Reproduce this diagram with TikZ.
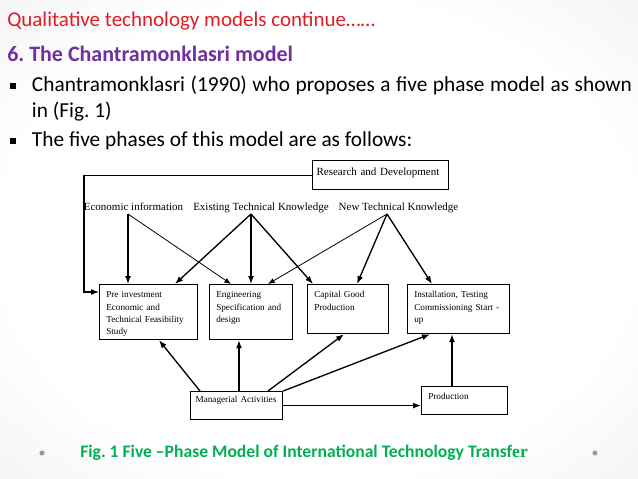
\documentclass[tikz,border=0pt]{standalone}
\usepackage{fontspec}
\setmainfont{Carlito}
\newfontfamily\diagfont{Liberation Serif}
\usetikzlibrary{arrows.meta,calc}
\frenchspacing

\definecolor{titlered}{RGB}{226,28,36}
\definecolor{headpurple}{RGB}{112,48,160}
\definecolor{capgreen}{RGB}{0,176,80}
\pgfdeclareradialshading{slidebg}{\pgfpoint{0bp}{0bp}}{color(0bp)=(white); color(25bp)=(white); color(50bp)=(black!10); color(72bp)=(black!16)}

\tikzset{
  phase/.style={draw, line width=0.9pt, anchor=north west, align=left, inner xsep=5pt, inner ysep=3pt, text height=6.75pt, font=\diagfont\fontsize{6.9}{9.3}\selectfont},
  know/.style={anchor=base, inner sep=1pt, text height=1.6ex, text depth=0.3ex, font=\diagfont\fontsize{8.25}{10}\selectfont},
  flow/.style={line width=1pt, -{Latex[length=6pt,width=4.5pt]}},
  thinflow/.style={line width=0.6pt, -{Latex[length=5pt,width=4pt]}},
}

\begin{document}
\begin{tikzpicture}[x=0.75pt,y=-0.75pt]
\useasboundingbox (0,0) rectangle (638,478);
\shade[shading=slidebg] (0,0) rectangle (638,478);
\fill[white] (82,157) rectangle (515,420);

% slide text
\node[anchor=base west, inner sep=0pt, text=titlered, font=\fontsize{15.75}{18}\selectfont] (title) at (7,26.7) {Qualitative technology models continue……};
\node[anchor=base west, inner sep=0pt, text=headpurple, font=\bfseries\fontsize{16.5}{20}\selectfont] (heading) at (7,61) {6. The Chantramonklasri model};
\node[anchor=base west, inner sep=0pt, text width=450pt, align=justify, font=\fontsize{16}{19.1}\selectfont] (item1) at (31.7,91.7) {\noindent\llap{\rule[1.9pt]{4.3pt}{4.3pt}\hspace{12pt}}Chantramonklasri (1990) who proposes a five phase model as shown\linebreak in (Fig.~1)};
\node[anchor=base west, inner sep=0pt, font=\fontsize{16}{19.1}\selectfont] (item2) at (31.7,146.7) {\llap{\rule[1.9pt]{4.3pt}{4.3pt}\hspace{12pt}}The five phases of this model are as follows:};
\node[anchor=base west, inner sep=0pt, text=capgreen, font=\bfseries\fontsize{13.2}{15}\selectfont] (caption) at (80,457) {Fig. 1 Five –Phase Model of International Technology Transf{\diagfont er}};
\fill[black!40] (42,453) circle (1.9pt);
\fill[black!40] (595,453) circle (1.9pt);

% the five phases
\node[phase, text width=96pt, inner xsep=3pt, text height=8.25pt, text depth=7.5pt, font=\diagfont\fontsize{8.25}{10}\selectfont] (rd) at (312,160) {Research and Development};
\node[know] (econ) at (133.5,210.5) {Economic information};
\node[know] (exist) at (261,210.5) {Existing Technical Knowledge};
\node[know] (new) at (398.5,210.5) {New Technical Knowledge};

\node[phase, text width=63.5pt, text depth=28.5pt] (pre) at (99,284) {Pre investment\\Economic and\\Technical Feasibility\\Study};
\node[phase, text width=52.25pt, text depth=28.5pt] (eng) at (209,284) {Engineering\\Specification and\\design};
\node[phase, text width=50.75pt, text depth=24pt] (cap) at (307,284) {Capital Good\\Production};
\node[phase, text width=66.5pt, text depth=24pt] (inst) at (407,284) {Installation, Testing\\Commissioning Start -\\up};
\node[phase, text width=54.5pt, text depth=8.25pt] (prod) at (421,386) {Production};
\node[phase, text width=61.5pt, inner xsep=3.75pt, text height=5pt, text depth=10pt] (man) at (190,391) {Managerial Activities};

% knowledge inputs
\draw[flow, line width=0.8pt] (rd.west) -| ($(pre.north west)+(-15,8)$) -- ($(pre.north west)+(0,8)$);
\draw[flow] ($(econ.south)+(-5.5,0)$) -- ($(pre.north west)+(29,0)$);
\draw[thinflow] ($(econ.south)+(-5.5,0)$) -- ($(eng.north west)+(22,0)$);
\draw[flow] ($(exist.south)+(-10,0)$) -- ($(pre.north west)+(76,0)$);
\draw[flow] ($(exist.south)+(-10,0)$) -- ($(eng.north west)+(42,0)$);
\draw[flow] ($(exist.south)+(-10,0)$) -- ($(cap.north west)+(6,0)$);
\draw[thinflow] ($(new.south)+(-11.5,0)$) -- ($(eng.north west)+(59,0)$);
\draw[flow] ($(new.south)+(-11.5,0)$) -- ($(cap.north west)+(50,0)$);
\draw[flow] ($(new.south)+(-11.5,0)$) -- ($(inst.north west)+(25,0)$);

% managerial activities
\draw[flow] ($(man.north west)+(10,0)$) -- ($(pre.south west)+(60,0)$);
\draw[flow] ($(man.north west)+(49,0)$) -- ($(eng.south west)+(30,0)$);
\draw[flow] ($(man.north west)+(78,0)$) -- ($(cap.south west)+(37,0)$);
\draw[flow] (man.north east) -- ($(inst.south west)+(23,0)$);
\draw[flow] (man.east) -- (man.east -| prod.west);
\draw[flow] ($(prod.north west)+(31,0)$) -- ($(inst.south west)+(45,0)$);

\end{tikzpicture}
\end{document}
